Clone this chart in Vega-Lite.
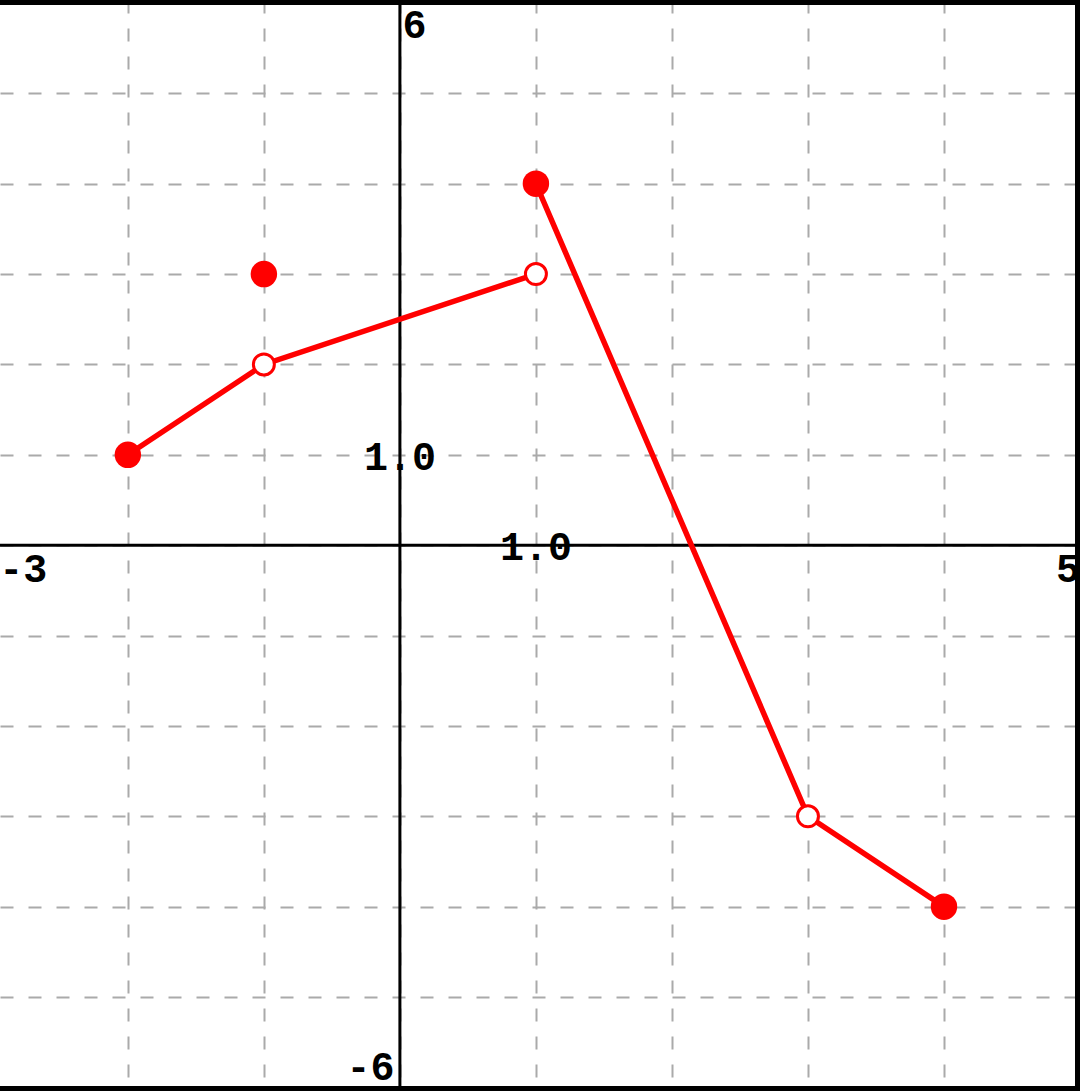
{
  "$schema": "https://vega.github.io/schema/vega-lite/v6.json",
  "width": 1080,
  "height": 1091,
  "autosize": {"type": "none"},
  "padding": 0,
  "background": "white",
  "config": {
    "view": {"stroke": null},
    "axis": {"labels": false, "ticks": false, "domain": false, "title": null, "grid": true, "gridColor": "#aaaaaa", "gridWidth": 2, "gridDash": [13, 15], "gridOpacity": 1}
  },
  "datasets": {
    "lines": [
      {"seg": "A", "x": -2, "y": 1},
      {"seg": "A", "x": -1, "y": 2},
      {"seg": "A", "x": 1, "y": 3},
      {"seg": "B", "x": 1, "y": 4},
      {"seg": "B", "x": 3, "y": -3},
      {"seg": "B", "x": 4, "y": -4}
    ],
    "points": [
      {"x": -2, "y": 1, "kind": "filled"},
      {"x": -1, "y": 2, "kind": "open"},
      {"x": -1, "y": 3, "kind": "filled"},
      {"x": 1, "y": 3, "kind": "open"},
      {"x": 1, "y": 4, "kind": "filled"},
      {"x": 3, "y": -3, "kind": "open"},
      {"x": 4, "y": -4, "kind": "filled"}
    ],
    "labels": [
      {"x": -2.945, "y": -0.28, "text": "-3", "align": "left"},
      {"x": 5, "y": -0.28, "text": "5", "align": "right"},
      {"x": 0.02, "y": 5.74, "text": "6", "align": "left"},
      {"x": -0.04, "y": -5.79, "text": "-6", "align": "right"},
      {"x": 0, "y": 0.97, "text": "1.0", "align": "center"},
      {"x": 1, "y": -0.03, "text": "1.0", "align": "center"}
    ]
  },
  "layer": [
    {
      "data": {"name": "points"},
      "mark": {"type": "point", "opacity": 0},
      "encoding": {
        "x": {"field": "x", "type": "quantitative", "scale": {"domain": [-2.94, 5], "nice": false, "zero": false}, "axis": {"values": [-2, -1, 0, 1, 2, 3, 4]}},
        "y": {"field": "y", "type": "quantitative", "scale": {"domain": [-6.04, 6.033], "nice": false, "zero": false}, "axis": {"values": [-5, -4, -3, -2, -1, 0, 1, 2, 3, 4, 5]}}
      }
    },
    {
      "data": {"values": [{"x": 0}]},
      "mark": {"type": "rule", "color": "black", "strokeWidth": 3},
      "encoding": {
        "x": {"field": "x", "type": "quantitative"}
      }
    },
    {
      "data": {"values": [{"y": 0}]},
      "mark": {"type": "rule", "color": "black", "strokeWidth": 3},
      "encoding": {
        "y": {"field": "y", "type": "quantitative"}
      }
    },
    {
      "data": {"values": [{"y": 6.033}, {"y": -6.04}]},
      "mark": {"type": "rule", "color": "black", "strokeWidth": 10},
      "encoding": {
        "y": {"field": "y", "type": "quantitative"}
      }
    },
    {
      "data": {"values": [{"x": 5}]},
      "mark": {"type": "rule", "color": "black", "strokeWidth": 10},
      "encoding": {
        "x": {"field": "x", "type": "quantitative"}
      }
    },
    {
      "data": {"name": "lines"},
      "mark": {"type": "line", "color": "#ff0000", "strokeWidth": 5.5},
      "encoding": {
        "x": {"field": "x", "type": "quantitative"},
        "y": {"field": "y", "type": "quantitative"},
        "detail": {"field": "seg"}
      }
    },
    {
      "data": {"name": "points"},
      "transform": [{"filter": "datum.kind == 'filled'"}],
      "mark": {"type": "point", "shape": "circle", "filled": true, "color": "#ff0000", "size": 700, "opacity": 1},
      "encoding": {
        "x": {"field": "x", "type": "quantitative"},
        "y": {"field": "y", "type": "quantitative"}
      }
    },
    {
      "data": {"name": "points"},
      "transform": [{"filter": "datum.kind == 'open'"}],
      "mark": {"type": "point", "shape": "circle", "fill": "white", "fillOpacity": 1, "stroke": "#ff0000", "strokeWidth": 3, "size": 440, "opacity": 1},
      "encoding": {
        "x": {"field": "x", "type": "quantitative"},
        "y": {"field": "y", "type": "quantitative"}
      }
    },
    {
      "data": {"name": "labels"},
      "transform": [{"filter": "datum.align == 'left'"}],
      "mark": {"type": "text", "font": "Liberation Mono", "fontWeight": "bold", "fontSize": 40, "color": "black", "baseline": "middle", "align": "left"},
      "encoding": {
        "x": {"field": "x", "type": "quantitative"},
        "y": {"field": "y", "type": "quantitative"},
        "text": {"field": "text"}
      }
    },
    {
      "data": {"name": "labels"},
      "transform": [{"filter": "datum.align == 'right'"}],
      "mark": {"type": "text", "font": "Liberation Mono", "fontWeight": "bold", "fontSize": 40, "color": "black", "baseline": "middle", "align": "right"},
      "encoding": {
        "x": {"field": "x", "type": "quantitative"},
        "y": {"field": "y", "type": "quantitative"},
        "text": {"field": "text"}
      }
    },
    {
      "data": {"name": "labels"},
      "transform": [{"filter": "datum.align == 'center'"}],
      "mark": {"type": "text", "font": "Liberation Mono", "fontWeight": "bold", "fontSize": 40, "color": "black", "baseline": "middle", "align": "center"},
      "encoding": {
        "x": {"field": "x", "type": "quantitative"},
        "y": {"field": "y", "type": "quantitative"},
        "text": {"field": "text"}
      }
    }
  ]
}
